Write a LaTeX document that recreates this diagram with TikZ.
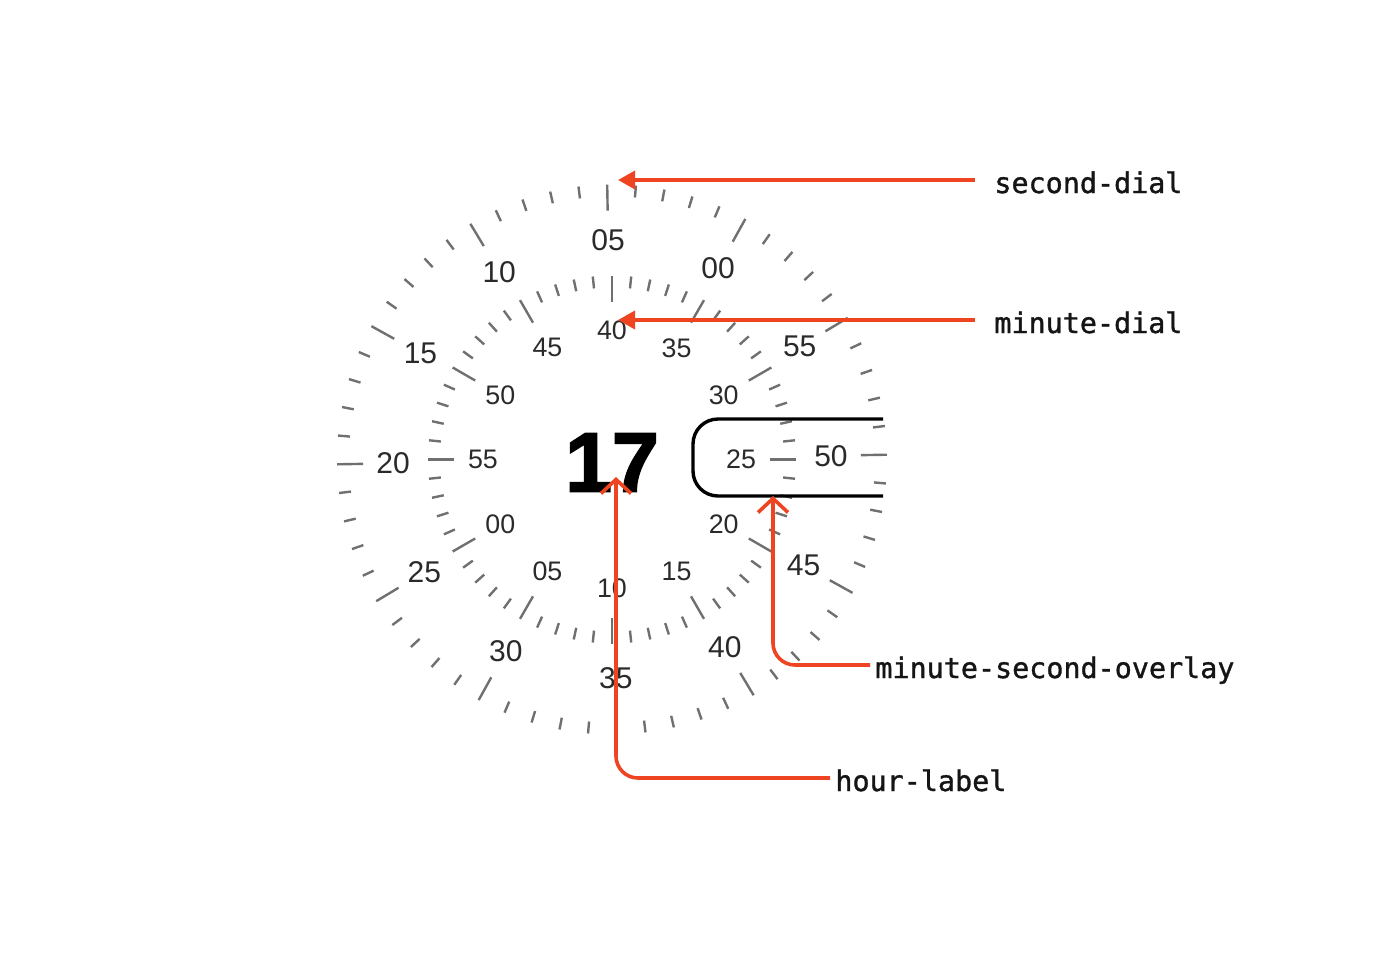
\documentclass[tikz,border=0pt]{standalone}
\usepackage{fontspec}
\setmainfont{Liberation Sans}
\newfontfamily\monofont{DejaVu Sans Mono}[FakeBold=1.2]
\newfontfamily\hourfont{Liberation Sans}[FakeBold=2.5]
\usetikzlibrary{arrows.meta}
\definecolor{dialgray}{HTML}{707070}
\definecolor{digitgray}{HTML}{2A2A2A}
\definecolor{callred}{HTML}{EE4422}
\definecolor{inkblack}{HTML}{151515}
\begin{document}
\begin{tikzpicture}[x=0.5pt,y=0.5pt,
    dialtick/.style={draw=dialgray,line width=1.2pt},
    secnum/.style={text=digitgray,font=\fontsize{15}{16}\selectfont},
    minnum/.style={text=digitgray,font=\fontsize{13.4}{14}\selectfont},
    callout/.style={anchor=west,inner xsep=2.5pt,inner ysep=0pt,text height=13pt,text depth=0pt,text=inkblack,font=\monofont\fontsize{14.2}{16}\selectfont},
    pointer/.style={draw=callred,line width=1.8pt,-{Triangle[length=8.5pt,width=9pt]}},
    elbow/.style={draw=callred,line width=1.8pt,rounded corners=11pt,-{Straight Barb[length=7pt,width=15pt]}}]
    \useasboundingbox (-612,-500.5) rectangle (788,459.5);
    \begin{scope}[rotate=1]
        \foreach \i in {0,...,59}{
            \pgfmathsetmacro\rin{mod(\i,5)==0 ? 249 : 263}
            \draw[dialtick] (6*\i:\rin) -- (6*\i:275);
        }
        \foreach \s [count=\k from 0] in {50,55,00,05,10,15,20,25,30,35,40,45}
            \node[secnum] (sec\s) at (30*\k:219) {\s};
    \end{scope}
    \foreach \i in {0,...,59}{
        \pgfmathsetmacro\rin{mod(\i,5)==0 ? 158 : 172}
        \draw[dialtick] (6*\i:\rin) -- (6*\i:184);
    }
    \foreach \m [count=\k from 0] in {25,30,35,40,45,50,55,00,05,10,15,20}
        \node[minnum] (min\m) at (30*\k:129) {\m};
    \node[font=\hourfont\bfseries\fontsize{42}{42}\selectfont] (hour) at (0,-3) {17};
    \draw[line width=1.7pt,rounded corners=12.5pt] (271,40.5) -- (81,40.5) -- (81,-36.5) -- (271,-36.5);
    \coordinate (overlaybase) at (161,-36.5);
    \coordinate (secondtip) at (6,279.5);
    \coordinate (minutetip) at (6,139.5);
    \coordinate (hourtip) at (4,-17.5);
    \node[callout] (secondtxt) at (377,279.5) {second-dial};
    \node[callout] (minutetxt) at (377,139.5) {minute-dial};
    \node[callout] (overlaytxt) at (258,-205.5) {minute-second-overlay};
    \node[callout] (hourtxt) at (218,-318.5) {hour-label};
    \draw[pointer,shorten <=7pt] (secondtxt.west) -- (secondtip);
    \draw[pointer,shorten <=7pt] (minutetxt.west) -- (minutetip);
    \draw[elbow] (overlaytxt.west) -| (overlaybase);
    \draw[elbow] (hourtxt.west) -| (hourtip);
\end{tikzpicture}
\end{document}
